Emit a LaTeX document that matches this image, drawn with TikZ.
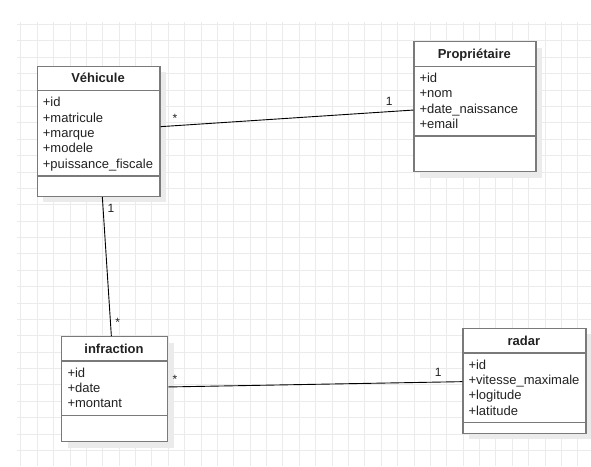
\documentclass[tikz,border=0pt]{standalone}
\usepackage{fontspec}
\setmainfont{Liberation Sans}
\usetikzlibrary{shadows}
\definecolor{boxgray}{HTML}{7A7A7A}
\definecolor{shadowgray}{HTML}{EBEBEB}
\definecolor{gridgray}{HTML}{EBEBEB}
\definecolor{txt}{HTML}{222222}
\tikzset{
 classbox/.style={draw=boxgray, line width=1.3pt, fill=white, inner sep=0pt, anchor=north west,
   drop shadow={shadow xshift=6pt, shadow yshift=-6pt, fill=shadowgray, opacity=1}},
 sepline/.style={draw=boxgray, line width=1.3pt},
 title/.style={font=\fontsize{13}{15}\selectfont\bfseries, anchor=base, inner sep=0pt, text=txt},
 attr/.style={font=\fontsize{13}{15}\selectfont, anchor=base west, inner sep=0pt, text=txt},
 mult/.style={font=\fontsize{12}{14}\selectfont, anchor=base, inner sep=0pt, text=txt},
 assoc/.style={draw=black, line width=0.9pt},
 gridline/.style={draw=gridgray, line width=0.8pt}
}
\begin{document}
\begin{tikzpicture}[x=1pt,y=-1pt]
\useasboundingbox (0,0) rectangle (591,466);
\fill[white] (0,0) rectangle (591,466);
% grid
\begin{scope}
\clip (16.7,22) rectangle (591,466);
\foreach \i in {0,...,34} \draw[gridline] (20.8+16.38*\i,22) -- (20.8+16.38*\i,466);
\foreach \j in {0,...,26} \draw[gridline] (16.7,24.5+16.38*\j) -- (591,24.5+16.38*\j);
\end{scope}

% Vehicule
\node[classbox, minimum width=122.6pt, minimum height=130pt] (veh) at (36.7,65.7) {};
\draw[sepline] ([yshift=-25pt]veh.north west) -- ([yshift=-25pt]veh.north east);
\draw[sepline] ([yshift=-110.3pt]veh.north west) -- ([yshift=-110.3pt]veh.north east);
\node[title] (vehT) at (98,82.8) {Véhicule};
\node[attr] (vehA1) at (42.7,106.7) {+id};
\node[attr] (vehA2) at (42.7,122) {+matricule};
\node[attr] (vehA3) at (42.7,137.3) {+marque};
\node[attr] (vehA4) at (42.7,152.7) {+modele};
\node[attr] (vehA5) at (42.7,168) {+puissance\_fiscale};

% Proprietaire
\node[classbox, minimum width=122pt, minimum height=130pt] (prop) at (413.3,41) {};
\draw[sepline] ([yshift=-25.3pt]prop.north west) -- ([yshift=-25.3pt]prop.north east);
\draw[sepline] ([yshift=-95pt]prop.north west) -- ([yshift=-95pt]prop.north east);
\node[title] (propT) at (474.3,58.3) {Propriétaire};
\node[attr] (propA1) at (419.3,82.4) {+id};
\node[attr] (propA2) at (419.3,97.7) {+nom};
\node[attr] (propA3) at (419.3,113) {+date\_naissance};
\node[attr] (propA4) at (419.3,128.4) {+email};

% infraction
\node[classbox, minimum width=106pt, minimum height=105pt] (inf) at (61,336) {};
\draw[sepline] ([yshift=-25pt]inf.north west) -- ([yshift=-25pt]inf.north east);
\draw[sepline] ([yshift=-79.3pt]inf.north west) -- ([yshift=-79.3pt]inf.north east);
\node[title] (infT) at (114,353.1) {infraction};
\node[attr] (infA1) at (67.3,377) {+id};
\node[attr] (infA2) at (67.3,392.3) {+date};
\node[attr] (infA3) at (67.3,407.7) {+montant};

% radar
\node[classbox, minimum width=123pt, minimum height=105pt] (rad) at (462.3,327.7) {};
\draw[sepline] ([yshift=-25.3pt]rad.north west) -- ([yshift=-25.3pt]rad.north east);
\draw[sepline] ([yshift=-95pt]rad.north west) -- ([yshift=-95pt]rad.north east);
\node[title] (radT) at (523.8,345) {radar};
\node[attr] (radA1) at (468.3,369) {+id};
\node[attr] (radA2) at (468.3,384.4) {+vitesse\_maximale};
\node[attr] (radA3) at (468.3,399.7) {+logitude};
\node[attr] (radA4) at (468.3,415) {+latitude};

% associations
\draw[assoc] ([yshift=4.7pt]veh.east) -- ([yshift=-3.4pt]prop.west);
\draw[assoc] ([xshift=3.7pt]veh.south) -- ([xshift=-3.3pt]inf.north);
\draw[assoc] ([yshift=2.2pt]inf.east) -- ([yshift=-0.8pt]rad.west);

% multiplicities
\node[mult] (m1) at (175,122.9) {*};
\node[mult] (m2) at (389.3,105.3) {1};
\node[mult] (m3) at (111,212) {1};
\node[mult] (m4) at (117.7,326.9) {*};
\node[mult] (m5) at (175,383.6) {*};
\node[mult] (m6) at (438.3,376) {1};
\end{tikzpicture}
\end{document}
